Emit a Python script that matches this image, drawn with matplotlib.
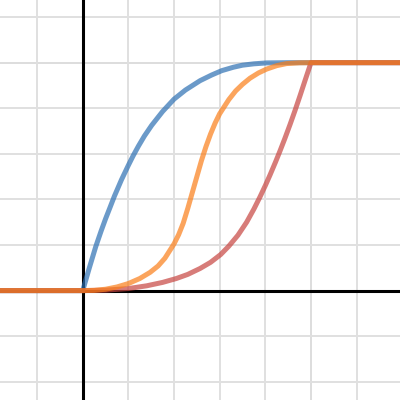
import matplotlib
matplotlib.use("Agg")
import matplotlib.pyplot as plt
from matplotlib.ticker import MultipleLocator

# points (x, y), flat parts run out past the view
blue_x = [-0.4, 0, 0.029, 0.057, 0.08, 0.10, 0.12, 0.139, 0.17, 0.20, 0.22, 0.244, 0.27,
          0.302, 0.35, 0.40, 0.45, 0.514, 0.565, 0.609, 0.66, 0.70, 0.75, 0.806, 0.9, 1.0, 1.5]
blue_y = [0, 0, 0.10, 0.193, 0.26, 0.315, 0.366, 0.415, 0.487, 0.55, 0.59, 0.634, 0.678,
          0.725, 0.786, 0.84, 0.88, 0.921, 0.946, 0.965, 0.98, 0.989, 0.995, 0.999, 1.0, 1.0, 1.0]

red_x = [-0.4, 0, 0.1, 0.2, 0.28, 0.35, 0.41, 0.46, 0.514, 0.56, 0.604, 0.64, 0.68, 0.718,
         0.75, 0.777, 0.80, 0.82, 0.845, 0.864, 0.885, 0.908, 0.93, 0.952, 0.975, 1.0, 1.5]
red_y = [0, 0, 0.002, 0.009, 0.021, 0.036, 0.053, 0.071, 0.097, 0.124, 0.158, 0.195, 0.243, 0.30,
         0.358, 0.412, 0.461, 0.506, 0.565, 0.612, 0.666, 0.728, 0.79, 0.855, 0.925, 1.0, 1.0]

orange_x = [-0.4, 0, 0.05, 0.1, 0.15, 0.2, 0.25, 0.295, 0.33, 0.36, 0.40, 0.42, 0.44, 0.46,
            0.48, 0.50, 0.52, 0.54, 0.56, 0.58, 0.60, 0.64, 0.67, 0.70, 0.733, 0.77, 0.806,
            0.85, 0.893, 0.95, 1.0, 1.5]
orange_y = [0, 0, 0.001, 0.006, 0.016, 0.031, 0.053, 0.08, 0.108, 0.142, 0.205, 0.245, 0.295,
            0.36, 0.43, 0.50, 0.57, 0.632, 0.687, 0.735, 0.776, 0.838, 0.876, 0.905, 0.932,
            0.955, 0.972, 0.987, 0.996, 0.9995, 1.0, 1.0]

fig = plt.figure(figsize=(4, 4), dpi=100)
ax = fig.add_axes([0, 0, 1, 1])
ax.set_xlim(-0.3625, 1.39)
ax.set_ylim(-0.48, 1.275)

# desmos style grid: light minor lines, gray unit lines, black axes
ax.xaxis.set_major_locator(MultipleLocator(0.2))
ax.yaxis.set_major_locator(MultipleLocator(0.2))
ax.grid(True, color="#e0e0e0", lw=1.4, zorder=0)
ax.tick_params(length=0, labelbottom=False, labelleft=False)
for s in ax.spines.values():
    s.set_visible(False)
ax.axvline(1, color="#929292", lw=1.4, zorder=1)
ax.axhline(1, color="#929292", lw=1.4, zorder=1)
ax.axvline(0, color="black", lw=2.2, zorder=2)
ax.axhline(0, color="black", lw=2.2, zorder=2)

kw = dict(lw=3.6, alpha=0.7, solid_capstyle="round", solid_joinstyle="round", zorder=3)
ax.plot(blue_x, blue_y, color="#2d70b3", **kw)
ax.plot(red_x, red_y, color="#c74440", **kw)
ax.plot(orange_x, orange_y, color="#fa7e19", **kw)

fig.savefig("out.png", dpi=100)
